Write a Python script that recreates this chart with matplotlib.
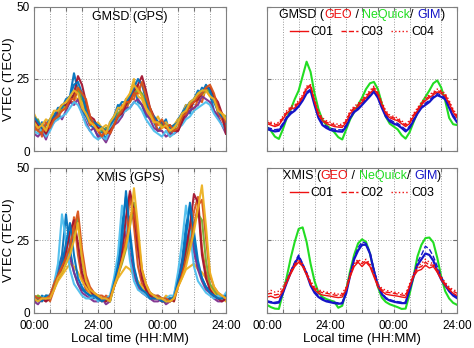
import numpy as np
import matplotlib
matplotlib.use("Agg")
import matplotlib.pyplot as plt
from matplotlib.offsetbox import TextArea, HPacker, AnchoredOffsetbox

plt.rcParams["font.family"] = ["Liberation Sans", "DejaVu Sans"]

# time axis: 3 days, one sample every 1.5 h
hours = np.arange(49) * 1.5
tick_pos = [0, 24, 48, 72]
tick_lbl = ["00:00", "24:00", "00:00", "24:00"]

# MATLAB default line colours
gps_colors = ["#0072BD", "#D95319", "#EDB120", "#7E2F8E", "#77AC30", "#4DBEEE", "#A2142F"]

# ---- GMSD, GPS satellites (VTEC, TECU)
gmsd_gps = [
    [10,7,10,6,11,13,11,16,15,19,27,21,14,12,9,8,5,7,4,10,12,16,12,18,18,23,17,16,12,12,10,7,9,11,6,8,11,13,16,13,18,19,22,21,20,14,12,13,9],
    [6,9,5,8,8,11,13,14,15,17,17,22,18,15,9,10,7,5,8,6,11,11,16,14,18,18,23,19,16,12,11,7,8,9,5,8,7,12,12,17,14,18,17,22,21,19,13,11,8],
    [13,10,9,11,10,13,12,16,14,19,19,18,17,13,11,9,10,8,9,8,12,13,15,16,20,25,19,18,14,12,10,12,9,10,8,9,11,12,16,15,18,20,19,21,19,18,15,13,12],
    [6,5,7,4,8,10,13,11,14,17,16,18,13,10,7,8,5,5,3,6,9,10,12,15,15,17,18,16,13,11,8,7,7,5,6,6,7,10,12,14,15,16,19,18,17,14,12,9,6],
    [9,11,7,9,10,11,12,15,16,18,19,22,18,16,11,10,8,7,8,7,10,13,14,16,17,20,21,20,17,15,11,10,9,8,8,7,10,11,14,16,18,18,20,21,21,18,16,12,12],
    [7,6,8,5,7,10,11,12,13,15,17,16,13,9,7,5,4,5,4,8,10,11,13,14,15,17,16,14,11,9,7,6,5,7,5,6,8,9,11,12,14,15,16,17,16,13,11,9,7],
    [11,9,8,6,9,12,14,16,16,17,20,26,23,17,12,11,8,8,6,7,9,12,13,16,18,21,23,26,21,15,12,10,10,8,9,7,7,10,14,15,17,18,20,22,22,19,17,13,6],
    [12,10,8,9,11,12,15,15,18,19,23,24,20,14,11,10,9,8,7,9,11,15,17,17,19,22,25,23,18,13,12,10,10,9,8,9,10,13,15,17,18,21,20,23,21,17,14,12,11],
    [9,7,6,10,8,11,12,14,15,18,18,22,20,18,12,9,7,5,7,6,9,12,14,17,17,20,20,24,19,15,11,9,11,8,9,7,8,12,13,16,17,19,20,22,23,20,15,13,10],
    [10,8,9,7,11,14,14,16,17,19,21,20,15,13,10,9,7,8,6,10,12,15,15,18,20,23,21,19,15,13,10,10,8,9,7,8,10,13,14,17,18,20,21,21,19,18,14,13,11],
]

# ---- XMIS, GPS satellites
xmis_gps = [
    [5,4,6,5,5,10,15,20,34,22,14,10,8,7,6,5,6,4,5,4,11,17,30,40,25,15,10,8,7,6,5,6,5,4,4,6,12,18,30,37,24,16,12,9,8,6,5,5,6],
    [6,5,4,6,4,8,12,14,18,22,33,20,12,8,7,6,5,4,6,5,9,14,19,26,41,30,16,10,8,6,6,5,4,5,4,5,10,14,20,27,35,40,22,14,9,7,6,5,5],
    [5,6,5,4,6,8,11,13,15,17,16,14,11,9,7,6,5,5,4,6,9,12,14,16,15,13,11,9,7,6,5,5,4,6,5,4,9,12,15,16,17,15,14,12,9,7,6,5,4],
    [4,3,5,4,6,9,13,18,22,19,14,10,7,6,5,4,4,5,3,4,10,15,24,28,20,13,9,7,6,5,4,4,5,3,4,5,11,17,24,29,21,15,11,8,7,5,4,4,5],
    [5,6,5,5,6,9,12,14,17,21,26,33,18,11,8,6,6,5,5,4,9,13,17,22,30,38,25,14,9,7,6,5,5,4,5,5,10,14,19,25,31,34,32,18,10,8,6,5,6],
    [6,4,5,6,5,10,17,34,25,15,10,8,6,5,5,6,4,5,5,6,12,20,37,30,18,11,8,7,6,5,6,5,4,5,6,6,14,24,37,28,16,11,9,7,6,5,6,5,7],
    [4,5,5,4,5,9,12,15,21,28,32,24,14,10,8,6,5,5,4,5,9,14,21,33,42,35,22,12,8,6,5,5,4,4,5,4,10,15,22,30,41,38,20,12,8,6,5,4,5],
    [5,5,4,6,6,9,13,17,24,31,20,12,9,7,6,6,5,4,5,5,10,16,25,42,28,16,10,8,7,5,5,5,4,4,5,5,11,16,26,38,28,18,12,9,7,6,5,5,6],
    [6,5,5,5,6,10,13,16,19,23,29,35,22,13,9,7,6,6,5,5,9,13,18,24,33,36,26,15,10,7,6,6,5,5,4,5,9,13,18,23,30,37,39,26,13,9,7,6,5],
    [5,4,5,5,5,8,12,14,17,20,25,31,19,11,8,7,6,5,5,4,9,13,18,23,30,43,30,15,10,7,6,5,5,4,4,5,9,12,16,22,28,36,44,30,14,9,7,6,5],
]

# ---- GMSD, BDS GEO / NeQuick / GIM
gmsd_neq = [8.3,7.0,5.0,4.2,7.5,11.5,14.5,18,21,26,31,27.5,20,14.5,10.8,9,7.8,6.5,4.8,4.0,7.5,11,13.5,16,18.5,21.5,23.5,24,21.5,16.5,11.9,9.5,8.5,7.5,5.5,4.3,6.5,10,13.5,16.5,18.8,21,23.5,24.5,22,17.5,11.5,9.3,9.0]
gmsd_gim = [7.6,7.2,6.8,7.0,9,11.5,13,14,15.5,17.5,20,21,16,11.5,9,8,7.3,7.0,6.8,6.7,8.5,11.5,13.5,14.5,16,17.5,19,20.6,18.5,15,12,10.3,9.5,9.0,8,6.8,8,10.5,13,15,16,17,18.5,19.4,18.8,18,15,12,10]
gmsd_gim2 = [8.2,7.8,7.4,7.6,9.6,12,13.6,14.6,16,18,20.5,21.5,16.6,12,9.6,8.6,7.9,7.6,7.4,7.3,9.1,12,14,15,16.5,18,19.5,21,19,15.6,12.6,10.9,10.1,9.6,8.6,7.4,8.6,11,13.6,15.6,16.6,17.6,19,20,19.4,18.6,15.6,12.6,10.6]
gmsd_c01 = [9.5,9,8.5,9,11,13,14.5,15,16.5,18.5,21.5,22.5,17,12.5,10.5,9.5,9,8.5,8.3,8.2,10,13,14.5,15.5,17,18.5,20,21.5,19.5,16,13,11.5,11,10.5,9.5,8.5,9.5,12,14,16,17.5,18.5,19.5,20.5,20,19,16.5,13.5,11.5]
gmsd_c03 = [10,9.5,9,9.5,11.5,13.5,15,15.5,17,19,22,23,17.5,13,11,10,9.5,9,8.8,8.7,10.5,13.5,15,16,17.5,19,20.5,22,20,16.5,13.5,12,11.5,11,10,9,10,12.5,14.5,16.5,18,19,20,21,20.5,19.5,17,14,12]
gmsd_c04 = [10.5,10,9.5,10,12,14,15.5,16,17.5,19.5,22.5,23,18,13.5,11.5,10.5,10,9.5,9.3,9.2,11,14,15.5,16.5,18,19.5,21,22.5,20.5,17,14,12.5,12,11.5,10.5,9.5,10.5,13,15,17,18.5,19.5,20.5,21.5,21,20,17.5,14.5,12.5]

# ---- XMIS, BDS GEO / NeQuick / GIM
xmis_neq = [2.8,2.0,1.5,1.4,6.8,12.5,19,24.5,29,29.5,24.5,17,11,7,5.5,4.8,4.3,3.9,1.8,2.5,8,14.5,20,24,25.4,24.5,20.5,14.5,9,5.3,3.8,3.0,2.5,2.0,1.4,1.5,6.5,12.5,19.5,23.5,25.8,26,24.3,19,12.5,7.5,5,3.5,2.8]
xmis_gim = [3.9,3.6,3.4,3.6,6.8,10.5,14,17,19.3,16.5,13.5,9.5,7,5.5,4.6,4.0,3.7,3.4,3.2,3.3,6.8,13,18.5,21.5,23.5,23.5,20.5,14.5,9.5,6.5,5,4.3,3.9,3.6,3.4,3.4,8,12.5,16.5,18.5,20.5,20,18,14.5,11.5,9.5,7.5,6,5.1]
xmis_gim2 = [4.2,3.9,3.7,3.9,7,11,14.5,17.5,20,17,14,10,7.5,6,5,4.3,4,3.7,3.5,3.6,7.2,13.5,19,22.5,24.5,24,21,15,10,7,5.3,4.6,4.2,3.9,3.7,3.7,8.5,13,17.5,20,23,22,19.5,16,12.5,10,8,6.5,5.5]
xmis_c01 = [5.5,5.8,5.2,5.5,7.5,10.5,13.5,16,17.5,16,13,10,8,6.8,6.2,6,5.8,5.5,5.3,5.5,8,12.5,16,17.5,16,17.5,16,12.5,9,7.5,6.5,6.2,6,5.8,5.5,5.3,9,12.5,14.5,15,16.5,15.5,16,14,11.5,9.5,8,6.8,6]
xmis_c02 = [6.5,6.8,6.2,6.5,8,11,14,16.5,18,16.5,13.5,10.5,8.5,7.5,7,6.8,6.5,6.2,6,6.2,8.5,13,16.5,18,17,18,16.5,13,9.5,8,7.2,7,6.8,6.5,6.2,6,9.5,13,15.5,16,17.5,16.5,16.5,14.5,12,10,8.5,7.5,6.8]
xmis_c03 = [7.5,7.8,7.2,7.5,9,11.5,14.5,17,18.5,17,14,11,9,8,7.5,7.2,7,6.8,6.5,6.8,9,13.5,17,18.5,17.5,18.5,17,13.5,10,8.5,7.8,7.5,7.2,7,6.8,6.5,10,13.5,16,17,18.5,17.5,17,15,12.5,10.5,9,8,7.5]

RED = "#EE1111"
GREEN = "#22DD22"
BLUE = "#1515C8"


def style_axes(ax, left_labels):
    ax.set_xlim(0, 72)
    ax.set_ylim(0, 50)
    ax.set_xticks(np.arange(0, 73, 6))
    ax.set_xticklabels([tick_lbl[tick_pos.index(t)] if t in tick_pos else "" for t in range(0, 73, 6)])
    ax.set_yticks([0, 25, 50])
    if not left_labels:
        ax.set_yticklabels([])
    ax.grid(True, color="0.6", linestyle=":", linewidth=0.7)
    ax.tick_params(direction="in", length=3, top=True, right=True,
                   labelsize=8.5, color="0.45")
    ax.tick_params(axis="x", pad=5)
    ax.tick_params(axis="y", pad=3)
    for sp in ax.spines.values():
        sp.set_color("0.5")
        sp.set_linewidth(0.8)


def gps_panel(ax, series, title):
    for k, s in enumerate(series):
        ax.plot(hours, s, color=gps_colors[k % len(gps_colors)], lw=1.5, alpha=0.95)
    style_axes(ax, True)
    ax.text(0.5, 0.975, title, transform=ax.transAxes, ha="center", va="top", fontsize=9)
    ax.set_ylabel("VTEC (TECU)", fontsize=9.5, labelpad=1)


def geo_panel(ax, station, neq, gim, gim2, reds, names):
    ax.plot(hours, neq, color=GREEN, lw=1.5)
    ax.plot(hours, gim2, color=BLUE, lw=1.0, ls="--")
    ax.plot(hours, gim, color=BLUE, lw=1.6)
    styles = ["-", "--", ":"]
    handles = []
    for r, st, nm in zip(reds, styles, names):
        h, = ax.plot(hours, r, color=RED, lw=1.0, ls=st, label=nm)
        handles.append(h)
    style_axes(ax, False)
    parts = [(station + " (", "black"), ("GEO", RED), (" / ", "black"),
             ("NeQuick", GREEN), ("/ ", "black"), ("GIM", BLUE), (")", "black")]
    boxes = [TextArea(s, textprops=dict(color=c, fontsize=9)) for s, c in parts]
    pack = HPacker(children=boxes, align="baseline", pad=0, sep=0)
    anc = AnchoredOffsetbox(loc="upper center", child=pack, pad=0, borderpad=0,
                            frameon=False, bbox_to_anchor=(0.5, 0.985),
                            bbox_transform=ax.transAxes)
    ax.add_artist(anc)
    ax.legend(handles=handles, loc="upper center", bbox_to_anchor=(0.5, 0.91),
              ncol=3, frameon=False, fontsize=9, handlelength=1.4,
              handletextpad=0.2, columnspacing=0.6, borderpad=0)


fig = plt.figure(figsize=(4.74, 3.48), dpi=100)
ax1 = fig.add_axes([0.0717, 0.566, 0.405, 0.414])
ax2 = fig.add_axes([0.5633, 0.566, 0.401, 0.414])
ax3 = fig.add_axes([0.0717, 0.1006, 0.405, 0.417])
ax4 = fig.add_axes([0.5633, 0.1006, 0.401, 0.417])

gps_panel(ax1, gmsd_gps, "GMSD (GPS)")
gps_panel(ax3, xmis_gps, "XMIS (GPS)")
geo_panel(ax2, "GMSD", gmsd_neq, gmsd_gim, gmsd_gim2,
          [gmsd_c01, gmsd_c03, gmsd_c04], ["C01", "C03", "C04"])
geo_panel(ax4, "XMIS", xmis_neq, xmis_gim, xmis_gim2,
          [xmis_c01, xmis_c02, xmis_c03], ["C01", "C02", "C03"])

for ax in (ax1, ax2):
    ax.set_xticklabels([])
for ax in (ax3, ax4):
    ax.set_xlabel("Local time (HH:MM)", fontsize=9.5, labelpad=1)

fig.savefig("out.png", dpi=100)
